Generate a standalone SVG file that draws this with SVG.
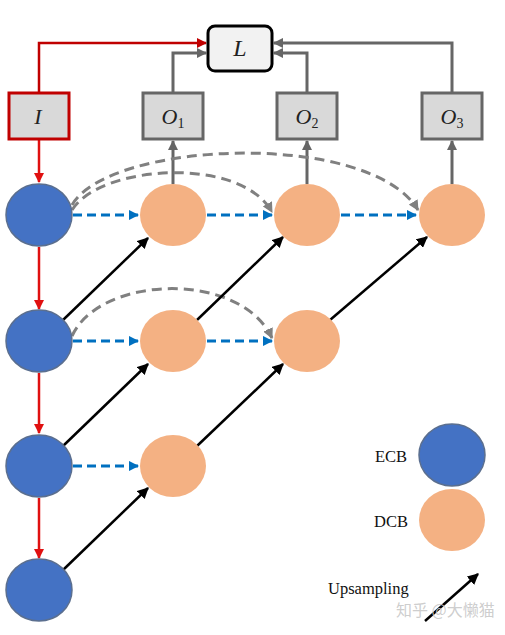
<svg xmlns="http://www.w3.org/2000/svg" width="505" height="635" viewBox="0 0 505 635">
<defs>
<style>
.ecb{fill:#4472c4;stroke:#5b6f8f;stroke-width:1.5}
.dcb{fill:#f4b183;stroke:none}
.box{fill:#d9d9d9;stroke:#666;stroke-width:3}
.math{font-family:"Liberation Serif",serif;font-style:italic;fill:#222}
.lbl{font-family:"Liberation Serif",serif;font-size:16.5px;fill:#111}
.red{stroke:#c00000;stroke-width:2.5;fill:none}
.redv{stroke:#e01010;stroke-width:2.5;fill:none}
.gray{stroke:#666;stroke-width:3;fill:none}
.blue{stroke:#0070c0;stroke-width:3;fill:none;stroke-dasharray:9 5}
.arc{stroke:#808080;stroke-width:3;fill:none;stroke-dasharray:10 6}
.up{stroke:#000;stroke-width:2.5;fill:none}
</style>
<marker id="mRed" viewBox="0 0 10 10" refX="9" refY="5" markerWidth="4" markerHeight="4" orient="auto"><path d="M0,0 L10,5 L0,10 z" fill="#c00000"/></marker>
<marker id="mRedV" viewBox="0 0 10 10" refX="9" refY="5" markerWidth="4" markerHeight="4" orient="auto"><path d="M0,0 L10,5 L0,10 z" fill="#e01010"/></marker>
<marker id="mGray" viewBox="0 0 10 10" refX="9" refY="5" markerWidth="3.5" markerHeight="3.5" orient="auto"><path d="M0,0 L10,5 L0,10 z" fill="#666"/></marker>
<marker id="mArc" viewBox="0 0 10 10" refX="9" refY="5" markerWidth="3.5" markerHeight="3.5" orient="auto"><path d="M0,0 L10,5 L0,10 z" fill="#808080"/></marker>
<marker id="mBlue" viewBox="0 0 10 10" refX="9" refY="5" markerWidth="3.5" markerHeight="3.5" orient="auto"><path d="M0,0 L10,5 L0,10 z" fill="#0070c0"/></marker>
<marker id="mBlk" viewBox="0 0 10 10" refX="9" refY="5" markerWidth="4.5" markerHeight="4.5" orient="auto"><path d="M0,0 L10,5 L0,10 z" fill="#000"/></marker>
</defs>
<rect width="505" height="635" fill="#fff"/>

<g id="connectors">
<path class="red" d="M39,93 V43 H206" marker-end="url(#mRed)"/>
<path class="gray" d="M173,93 V53 H206" marker-end="url(#mGray)"/>
<path class="gray" d="M307,93 V53 H274" marker-end="url(#mGray)"/>
<path class="gray" d="M452,93 V43 H274" marker-end="url(#mGray)"/>
<path class="gray" d="M173,184 V141" marker-end="url(#mGray)"/>
<path class="gray" d="M307,184 V141" marker-end="url(#mGray)"/>
<path class="gray" d="M452,184 V141" marker-end="url(#mGray)"/>
<path class="redv" d="M39,140 V182" marker-end="url(#mRedV)"/>
<path class="redv" d="M39,247 V309" marker-end="url(#mRedV)"/>
<path class="redv" d="M39,373 V433" marker-end="url(#mRedV)"/>
<path class="redv" d="M39,498 V558" marker-end="url(#mRedV)"/>
<path class="blue" d="M73,215 H138" marker-end="url(#mBlue)"/>
<path class="blue" d="M207,215 H272" marker-end="url(#mBlue)"/>
<path class="blue" d="M341,215 H416" marker-end="url(#mBlue)"/>
<path class="blue" d="M73,341 H138" marker-end="url(#mBlue)"/>
<path class="blue" d="M207,341 H272" marker-end="url(#mBlue)"/>
<path class="blue" d="M73,466 H138" marker-end="url(#mBlue)"/>
<path class="arc" d="M72,210 C100,165 240,155 272,212" marker-end="url(#mArc)"/>
<path class="arc" d="M72,205 C110,140 370,130 418,210" marker-end="url(#mArc)"/>
<path class="arc" d="M72,336 C100,275 240,270 272,338" marker-end="url(#mArc)"/>
<path class="up" d="M63,320 L148,238" marker-end="url(#mBlk)"/>
<path class="up" d="M197,320 L283,237" marker-end="url(#mBlk)"/>
<path class="up" d="M330,320 L427,237" marker-end="url(#mBlk)"/>
<path class="up" d="M63,446 L148,364" marker-end="url(#mBlk)"/>
<path class="up" d="M197,446 L283,364" marker-end="url(#mBlk)"/>
<path class="up" d="M63,570 L148,488" marker-end="url(#mBlk)"/>
<path class="up" d="M425,621 L478,574" marker-end="url(#mBlk)"/>
</g>

<g id="L"><rect x="208" y="26" width="64" height="45" rx="7" fill="#f2f2f2" stroke="#000" stroke-width="3"/><text class="math" x="240" y="56" font-size="24" text-anchor="middle">L</text></g>
<g id="I"><rect x="9" y="93" width="60" height="46" fill="#d9d9d9" stroke="#c00000" stroke-width="3"/><text class="math" x="38" y="124" font-size="22" text-anchor="middle">I</text></g>
<g id="O1"><rect class="box" x="143" y="93" width="60" height="46"/><text class="math" x="173" y="124" font-size="22" text-anchor="middle">O<tspan font-style="normal" font-size="14" dy="4">1</tspan></text></g>
<g id="O2"><rect class="box" x="277" y="93" width="60" height="46"/><text class="math" x="307" y="124" font-size="22" text-anchor="middle">O<tspan font-style="normal" font-size="14" dy="4">2</tspan></text></g>
<g id="O3"><rect class="box" x="422" y="93" width="60" height="46"/><text class="math" x="452" y="124" font-size="22" text-anchor="middle">O<tspan font-style="normal" font-size="14" dy="4">3</tspan></text></g>

<g id="E1"><ellipse class="ecb" cx="39" cy="215" rx="33" ry="31"/></g>
<g id="E2"><ellipse class="ecb" cx="39" cy="341" rx="33" ry="31"/></g>
<g id="E3"><ellipse class="ecb" cx="39" cy="466" rx="33" ry="31"/></g>
<g id="E4"><ellipse class="ecb" cx="39" cy="590" rx="33" ry="31"/></g>
<g id="D11"><ellipse class="dcb" cx="173" cy="215" rx="33" ry="31"/></g>
<g id="D12"><ellipse class="dcb" cx="307" cy="215" rx="33" ry="31"/></g>
<g id="D13"><ellipse class="dcb" cx="452" cy="215" rx="33" ry="31"/></g>
<g id="D21"><ellipse class="dcb" cx="173" cy="341" rx="33" ry="31"/></g>
<g id="D22"><ellipse class="dcb" cx="307" cy="341" rx="33" ry="31"/></g>
<g id="D31"><ellipse class="dcb" cx="173" cy="466" rx="33" ry="31"/></g>

<g id="legend">
<ellipse class="ecb" cx="452" cy="455" rx="33" ry="31"/>
<text class="lbl" x="375" y="462">ECB</text>
<ellipse class="dcb" cx="452" cy="520" rx="33" ry="31"/>
<text class="lbl" x="374" y="527">DCB</text>
<text class="lbl" x="328" y="594">Upsampling</text>
</g>
<text x="396" y="616" font-family="'Noto Sans CJK SC',sans-serif" font-size="16" fill="#c8c8c8" fill-opacity="0.9">知乎 @大懒猫</text>
</svg>
